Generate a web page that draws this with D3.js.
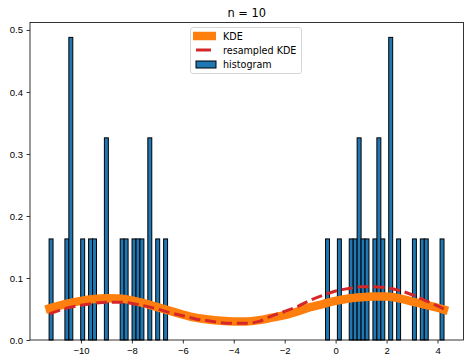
<!DOCTYPE html>
<html lang="en">
<head>
    <meta charset="UTF-8">
    <title>n = 10</title>
    <script src="https://d3js.org/d3.v7.min.js"></script>
    <style>
        body { margin: 0; background: #fff; }
        svg { display: block; font-family: "DejaVu Sans", sans-serif; }
        .tick text { font-size: 9.5px; fill: #000; }
    </style>
</head>
<body>
    <svg id="chart" width="474" height="363"></svg>
    <script>
        // Histogram of resampled points: 100 bins between histMin and histMax
        const histMin = -11.25;
        const histMax = 4.255;
        const binCount = 100;
        const barBins = [0, 4, 5, 8, 10, 11, 14, 18, 19, 21, 22, 23, 25, 27, 29,
                         70, 73, 76, 77, 78, 79, 80, 82, 83, 84, 86, 88, 92, 94, 95, 99];
        const barDensity = [0.163, 0.163, 0.488, 0.163, 0.163, 0.163, 0.326, 0.163, 0.163, 0.163, 0.163, 0.163, 0.326, 0.163, 0.163,
                            0.163, 0.163, 0.163, 0.163, 0.326, 0.163, 0.163, 0.163, 0.326, 0.163, 0.488, 0.163, 0.163, 0.163, 0.163, 0.163];

        // KDE curves
        const kdeX = [-11.23, -10.5, -10, -9.5, -9, -8.5, -8, -7.5, -7, -6.5, -6, -5.5, -5, -4.5, -4, -3.5,
                      -3, -2.5, -2, -1.5, -1, -0.5, 0, 0.5, 1, 1.5, 2, 2.5, 3, 3.5, 4, 4.25];
        const kdeY = [0.051, 0.059, 0.063, 0.066, 0.0675, 0.067, 0.064, 0.059, 0.053, 0.047, 0.041, 0.036, 0.033, 0.031, 0.030, 0.030,
                      0.032, 0.036, 0.040, 0.046, 0.053, 0.058, 0.063, 0.067, 0.069, 0.070, 0.070, 0.067, 0.062, 0.057, 0.052, 0.049];
        const resampledY = [0.042, 0.052, 0.056, 0.059, 0.061, 0.061, 0.059, 0.055, 0.050, 0.044, 0.039, 0.034, 0.031, 0.028, 0.027, 0.027,
                            0.030, 0.039, 0.046, 0.054, 0.064, 0.072, 0.079, 0.083, 0.086, 0.086, 0.084, 0.080, 0.073, 0.064, 0.055, 0.050];

        const yTicks = [0, 0.1, 0.2, 0.3, 0.4, 0.5];
        const xTicks = [-10, -8, -6, -4, -2, 0, 2, 4];

        const width = 474, height = 363;
        const margin = { top: 22.5, right: 10.5, bottom: 23, left: 30 };

        const svg = d3.select("#chart");

        const x = d3.scaleLinear().domain([-12.0, 5.02]).range([margin.left, width - margin.right]);
        const y = d3.scaleLinear().domain([0, 0.512]).range([height - margin.bottom, margin.top]);

        const binWidth = (histMax - histMin) / binCount;

        // bars first (matplotlib puts patches under lines)
        svg.append("g")
            .selectAll("rect")
            .data(barBins)
            .join("rect")
            .attr("x", d => x(histMin + d * binWidth))
            .attr("y", (d, i) => y(barDensity[i]))
            .attr("width", x(histMin + binWidth) - x(histMin))
            .attr("height", (d, i) => y(0) - y(barDensity[i]))
            .attr("fill", "#1f77b4")
            .attr("stroke", "#000")
            .attr("stroke-width", 1);

        const line = d3.line()
            .x((d, i) => x(kdeX[i]))
            .y(d => y(d))
            .curve(d3.curveMonotoneX);

        svg.append("path")
            .attr("d", line(kdeY))
            .attr("fill", "none")
            .attr("stroke", "#ff7f0e")
            .attr("stroke-width", 8.5)
            .attr("stroke-linecap", "square");

        svg.append("path")
            .attr("d", line(resampledY))
            .attr("fill", "none")
            .attr("stroke", "#d62728")
            .attr("stroke-width", 3)
            .attr("stroke-dasharray", "11.1,4.8");

        // axes
        const xAxis = svg.append("g")
            .attr("transform", `translate(0,${height - margin.bottom})`)
            .call(d3.axisBottom(x).tickValues(xTicks).tickSize(3.5).tickPadding(3.5)
                .tickFormat(d => d < 0 ? "\u2212" + Math.abs(d) : String(d)));
        const yAxis = svg.append("g")
            .attr("transform", `translate(${margin.left},0)`)
            .call(d3.axisLeft(y).tickValues(yTicks).tickSize(3.5).tickPadding(3.5)
                .tickFormat(d3.format(".1f")));
        [xAxis, yAxis].forEach(g => {
            g.select(".domain").remove();
            g.selectAll(".tick line").attr("stroke", "#000").attr("stroke-width", 0.8);
        });

        // frame
        svg.append("rect")
            .attr("x", margin.left)
            .attr("y", margin.top)
            .attr("width", width - margin.left - margin.right)
            .attr("height", height - margin.top - margin.bottom)
            .attr("fill", "none")
            .attr("stroke", "#000")
            .attr("stroke-width", 0.8);

        // title
        svg.append("text")
            .attr("x", (margin.left + width - margin.right) / 2)
            .attr("y", 16.5)
            .attr("text-anchor", "middle")
            .attr("font-size", 11.4)
            .text("n = 10");

        // legend
        const legend = svg.append("g");
        legend.append("rect")
            .attr("x", 190.5).attr("y", 27.5)
            .attr("width", 111).attr("height", 46)
            .attr("rx", 2.5)
            .attr("fill", "#fff").attr("fill-opacity", 0.8)
            .attr("stroke", "#ccc").attr("stroke-width", 0.8);

        legend.append("line")
            .attr("x1", 193).attr("x2", 216)
            .attr("y1", 36).attr("y2", 36)
            .attr("stroke", "#ff7f0e").attr("stroke-width", 8.5);
        legend.append("line")
            .attr("x1", 196).attr("x2", 211)
            .attr("y1", 50).attr("y2", 50)
            .attr("stroke", "#d62728").attr("stroke-width", 3);
        legend.append("rect")
            .attr("x", 196).attr("y", 61)
            .attr("width", 20).attr("height", 7)
            .attr("fill", "#1f77b4").attr("stroke", "#000").attr("stroke-width", 1);

        const labels = ["KDE", "resampled KDE", "histogram"];
        legend.selectAll("text.lab")
            .data(labels)
            .join("text")
            .attr("class", "lab")
            .attr("x", 223)
            .attr("y", (d, i) => 39.5 + i * 14.3)
            .attr("font-size", 9.6)
            .text(d => d);
    </script>
</body>
</html>
